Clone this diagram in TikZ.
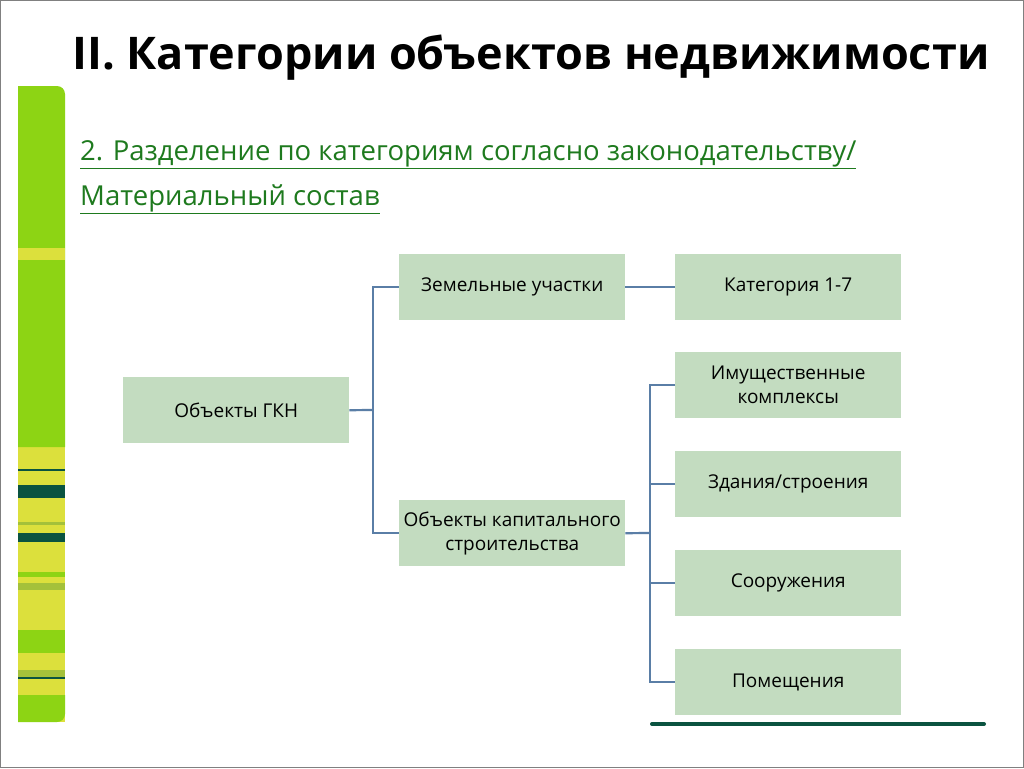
\documentclass[tikz,border=0pt]{standalone}
\usepackage{fontspec}
\setmainfont{Open Sans}
\begin{document}
\begin{tikzpicture}[x=1pt,y=-1pt,
 box/.style={fill=boxc,minimum width=226pt,minimum height=66pt,inner sep=2pt,align=center,font=\fontsize{19}{24}\selectfont,anchor=north west},
 con/.style={draw=linec,line width=2.2pt}]
\definecolor{boxc}{HTML}{C3DCC0}
\definecolor{linec}{HTML}{5A7EA6}
\definecolor{sg}{HTML}{8DD414}
\definecolor{sy}{HTML}{DCE03C}
\definecolor{sd}{HTML}{0A5340}
\definecolor{so}{HTML}{A4C13A}
\definecolor{tg}{HTML}{1E7A1E}
\useasboundingbox (0,0) rectangle (1024,768);
\fill[white] (0,0) rectangle (1024,768);
\draw[gray,line width=1pt] (0.5,0.5) rectangle (1023.5,767.5);
% stripe
\fill[sy] (18,447) rectangle (65,722);
\fill[sg] (18,86) -- (57,86) to[out=0,in=90] (65,94) -- (65,447) -- (18,447) -- cycle;
\fill[sy] (18,248) rectangle (65,260);
\fill[sd] (18,469) rectangle (65,471);
\fill[sd] (18,485) rectangle (65,498);
\fill[so] (18,522) rectangle (65,525);
\fill[sd] (18,533) rectangle (65,542);
\fill[sg] (18,572) rectangle (65,577);
\fill[so] (18,583) rectangle (65,590);
\fill[sg] (18,630) rectangle (65,653);
\fill[so] (18,670) rectangle (65,677);
\fill[sd] (18,677) rectangle (65,679);
\fill[sg] (18,695) -- (65,695) -- (65,714) to[out=-90,in=0] (57,722) -- (18,722) -- cycle;
% title
\node[font=\fontsize{45}{50}\selectfont\bfseries,anchor=center] (title) at (531,58) {II. Категории объектов недвижимости};
\node[font=\fontsize{27.5}{32}\selectfont,text=tg,anchor=base west,inner sep=0] (s1) at (80,160) {\underline{2. Разделение по категориям согласно законодательству/}};
\node[font=\fontsize{27.5}{32}\selectfont,text=tg,anchor=base west,inner sep=0] (s2) at (80,205) {\underline{Материальный состав}};
% boxes
\node[box] (gkn) at (123,377) {Объекты ГКН};
\node[box] (zu) at (399,254) {Земельные участки};
\node[box] (k17) at (675,254) {Категория 1-7};
\node[box] (oks) at (399,500) {Объекты капитального\\строительства};
\node[box] (im) at (675,352) {Имущественные\\комплексы};
\node[box] (zd) at (675,451) {Здания/строения};
\node[box] (so) at (675,550) {Сооружения};
\node[box] (po) at (675,649) {Помещения};
% connectors
\coordinate (j1) at (373,410);
\coordinate (j2) at (650,533);
\draw[con] (gkn.east) -- (j1);
\draw[con] (zu.west) -| (j1) |- (oks.west);
\draw[con] (zu.east) -- (k17.west);
\draw[con] (oks.east) -- (j2);
\draw[con] (im.west) -| (j2) |- (po.west);
\draw[con] (zd.west) -- (zd.west -| j2);
\draw[con] (so.west) -- (so.west -| j2);
\draw[line width=4pt,draw=sd,line cap=round] (652,724) -- (984,724);
\end{tikzpicture}
\end{document}
